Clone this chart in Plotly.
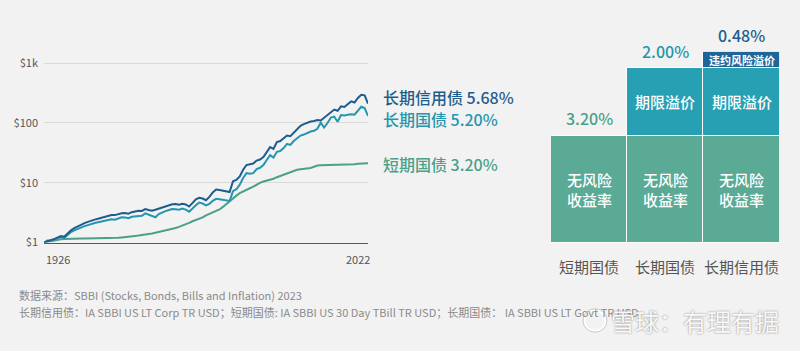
import plotly.graph_objects as go

# ---------------- data ----------------
years = list(range(1926, 2023))

credit = [1.00, 1.06, 1.10, 1.14, 1.22, 1.29, 1.25, 1.42, 1.60, 1.75,
          1.88, 1.99, 2.12, 2.22, 2.34, 2.42, 2.50, 2.60, 2.75, 2.85,
          2.90, 2.88, 3.00, 3.08, 3.12, 3.05, 3.22, 3.30, 3.41, 3.38,
          3.64, 3.50, 3.41, 3.55, 3.70, 3.86, 4.05, 4.20, 4.38, 4.40,
          4.30, 4.45, 4.35, 4.00, 4.60, 5.30, 5.60, 5.45, 5.10, 5.80,
          6.90, 7.70, 7.60, 7.40, 7.20, 7.00, 10.6, 11.2, 12.8, 16.5,
          19.8, 20.2, 21.0, 23.5, 24.5, 27.0, 32.0, 39.5, 37.0, 48.0,
          50.0, 55.0, 61.6, 60.0, 68.0, 78.0, 90.0, 96.0, 101.0, 106.0,
          108.0, 112.0, 110.0, 123.0, 138.0, 155.0, 168.0, 160.0, 190.0, 185.0,
          203.0, 230.0, 220.0, 262.0, 297.0, 290.0, 211.0]

govt = [1.00, 1.08, 1.09, 1.13, 1.18, 1.24, 1.20, 1.36, 1.50, 1.60,
        1.70, 1.80, 1.88, 1.96, 2.06, 2.12, 2.18, 2.24, 2.34, 2.42,
        2.46, 2.42, 2.52, 2.65, 2.62, 2.55, 2.70, 2.75, 2.82, 2.80,
        3.08, 2.90, 2.75, 2.65, 3.00, 3.20, 3.35, 3.50, 3.64, 3.62,
        3.55, 3.70, 3.55, 3.28, 3.75, 4.20, 4.67, 4.50, 4.20, 4.45,
        5.00, 5.40, 5.30, 5.20, 5.10, 4.97, 7.25, 7.80, 9.30, 12.0,
        14.5, 14.2, 14.5, 17.0, 17.8, 19.8, 24.0, 29.0, 26.5, 33.0,
        34.0, 38.0, 44.6, 43.0, 50.0, 55.0, 61.6, 64.0, 68.0, 72.0,
        74.0, 80.0, 101.0, 84.0, 100.0, 123.0, 128.0, 105.0, 136.0, 134.0,
        137.0, 140.0, 138.0, 160.0, 187.0, 178.0, 131.0]

bills = [1.00, 1.03, 1.06, 1.10, 1.13, 1.14, 1.15, 1.16, 1.17, 1.17,
         1.17, 1.17, 1.17, 1.17, 1.17, 1.17, 1.17, 1.17, 1.17, 1.18,
         1.19, 1.19, 1.20, 1.22, 1.23, 1.25, 1.27, 1.29, 1.31, 1.33,
         1.36, 1.40, 1.42, 1.46, 1.50, 1.53, 1.57, 1.62, 1.68, 1.75,
         1.83, 1.91, 2.00, 2.13, 2.27, 2.37, 2.46, 2.64, 2.86, 3.02,
         3.18, 3.34, 3.58, 3.95, 4.40, 5.05, 5.60, 6.10, 6.70, 7.20,
         7.65, 8.10, 8.60, 9.30, 10.0, 10.5, 10.8, 11.2, 11.7, 12.4,
         13.0, 13.7, 14.4, 15.1, 16.0, 16.5, 16.8, 17.0, 17.2, 17.7,
         18.5, 19.4, 19.7, 19.75, 19.8, 19.8, 19.8, 19.8, 19.8, 19.8,
         19.9, 20.0, 20.4, 20.8, 20.9, 20.9, 21.2]

series_names = ["长期信用债", "长期国债", "短期国债"]
series_cagr = ["5.68%", "5.20%", "3.20%"]

y_tickvals = [1, 10, 100, 1000]
y_ticktext = ["$1", "$10", "$100", "$1k"]
x_ticklabels = ["1926", "2022"]

bar_categories = ["短期国债", "长期国债", "长期信用债"]
riskfree = [3.20, 3.20, 3.20]
term_premium = [0.0, 2.00, 2.00]
default_premium = [0.0, 0.0, 0.48]
bar_top_labels = ["3.20%", "2.00%", "0.48%"]
segment_labels = ["无风险<br>收益率", "期限溢价", "违约风险溢价"]

footnote1 = "数据来源：SBBI (Stocks, Bonds, Bills and Inflation) 2023"
footnote2 = "长期信用债：IA SBBI US LT Corp TR USD；短期国债: IA SBBI US 30 Day TBill TR USD；长期国债： IA SBBI US LT Govt TR USD"
watermark = "雪球：有理有据"

# ---------------- style ----------------
BG = "#f2f2f2"
C_CREDIT = "#1d5d8d"
C_GOVT = "#2496ae"
C_BILLS = "#4c9f88"
B_GREEN = "#5aaa96"
B_TEAL = "#27a0b4"
B_DARK = "#1f6598"
FONT = "Noto Sans CJK SC"
W, H = 800, 351


def px(x):
    return x / W


def py(y):
    return 1 - y / H


fig = go.Figure()

# lines
fig.add_trace(go.Scatter(x=years, y=bills, mode="lines", line=dict(color=C_BILLS, width=2),
                         xaxis="x", yaxis="y", hoverinfo="skip"))
fig.add_trace(go.Scatter(x=years, y=govt, mode="lines", line=dict(color=C_GOVT, width=2),
                         xaxis="x", yaxis="y", hoverinfo="skip"))
fig.add_trace(go.Scatter(x=years, y=credit, mode="lines", line=dict(color=C_CREDIT, width=2),
                         xaxis="x", yaxis="y", hoverinfo="skip"))

# stacked bars
seg_line = dict(color="rgba(255,255,255,0.85)", width=1)
fig.add_trace(go.Bar(x=bar_categories, y=riskfree, marker=dict(color=B_GREEN, line=seg_line),
                     xaxis="x2", yaxis="y2", hoverinfo="skip"))
fig.add_trace(go.Bar(x=bar_categories, y=term_premium, marker=dict(color=B_TEAL, line=seg_line),
                     xaxis="x2", yaxis="y2", hoverinfo="skip"))
fig.add_trace(go.Bar(x=bar_categories, y=default_premium, marker=dict(color=B_DARK, line=seg_line),
                     xaxis="x2", yaxis="y2", hoverinfo="skip"))

y_bottom_px = 247.5
y_top_px = 40
decade_px = 61.0
bar_bottom_px = 248
bar_top_px = 20
pct_px = 110 / 3.20

fig.update_layout(
    width=W, height=H,
    margin=dict(l=0, r=0, t=0, b=0),
    paper_bgcolor=BG, plot_bgcolor=BG,
    showlegend=False,
    barmode="stack", bargap=0,
    font=dict(family=FONT, color="#555555"),
    xaxis=dict(domain=[px(44), px(368)], range=[1926, 2022], showgrid=False,
               showticklabels=False, zeroline=False, showline=True,
               linecolor="#5a5a5a", linewidth=1.2, anchor="y", fixedrange=True),
    yaxis=dict(type="log", domain=[py(y_bottom_px), py(y_top_px)],
               range=[0, (y_bottom_px - y_top_px) / decade_px],
               tickvals=y_tickvals, ticktext=y_ticktext, showgrid=True,
               gridcolor="#dadada", gridwidth=1, zeroline=False, showline=False,
               ticks="", ticklabelstandoff=5,
               tickfont=dict(size=11, color="#555555", family=FONT), anchor="x"),
    xaxis2=dict(domain=[px(551), px(781)], type="category", showgrid=False,
                showticklabels=False, zeroline=False, showline=False, anchor="y2"),
    yaxis2=dict(domain=[py(bar_bottom_px), py(bar_top_px)],
                range=[0, (bar_bottom_px - bar_top_px) / pct_px], visible=False,
                anchor="x2"),
)

ann = []
# x tick labels (left chart)
ann.append(dict(x=1926, y=py(264), xref="x", yref="paper", text=x_ticklabels[0],
                xanchor="left", yanchor="middle", showarrow=False,
                font=dict(size=11, color="#555555", family=FONT)))
ann.append(dict(x=2022, y=py(264), xref="x", yref="paper", text=x_ticklabels[1],
                xanchor="right", yanchor="middle", xshift=4, showarrow=False,
                font=dict(size=11, color="#555555", family=FONT)))

# line labels
label_y = [99, 121, 167]
label_colors = [C_CREDIT, C_GOVT, C_BILLS]
for name, cagr, yy, c in zip(series_names, series_cagr, label_y, label_colors):
    ann.append(dict(x=px(381), y=py(yy), xref="paper", yref="paper",
                    text=f"{name} {cagr}", xanchor="left", yanchor="middle",
                    showarrow=False, font=dict(size=16, color=c, family=FONT, weight=500)))

# bar top percentage labels
tops = [riskfree[i] + term_premium[i] + default_premium[i] for i in range(3)]
top_colors = [C_BILLS, C_GOVT, C_CREDIT]
for cat, t, lab, c in zip(bar_categories, tops, bar_top_labels, top_colors):
    ann.append(dict(x=cat, y=t, xref="x2", yref="y2", text=lab, xanchor="center",
                    yanchor="bottom", yshift=3, showarrow=False,
                    font=dict(size=16, color=c, family=FONT, weight=500)))

# segment labels
for i, cat in enumerate(bar_categories):
    ann.append(dict(x=cat, y=riskfree[i] / 2, xref="x2", yref="y2", text=segment_labels[0],
                    showarrow=False, font=dict(size=15, color="white", family=FONT, weight=500)))
    if term_premium[i] > 0:
        ann.append(dict(x=cat, y=riskfree[i] + term_premium[i] / 2, xref="x2", yref="y2",
                        text=segment_labels[1], showarrow=False,
                        font=dict(size=15, color="white", family=FONT, weight=500)))
    if default_premium[i] > 0:
        ann.append(dict(x=cat, y=riskfree[i] + term_premium[i] + default_premium[i] / 2,
                        xref="x2", yref="y2", text="<b>" + segment_labels[2] + "</b>",
                        showarrow=False, font=dict(size=11, color="white", family=FONT)))

# category labels
for cat in bar_categories:
    ann.append(dict(x=cat, y=py(272), xref="x2", yref="paper", text=cat,
                    showarrow=False, yanchor="middle",
                    font=dict(size=15, color="#555555", family=FONT)))

# footnotes
ann.append(dict(x=px(17), y=py(301), xref="paper", yref="paper", text=footnote1,
                xanchor="left", yanchor="middle", showarrow=False,
                font=dict(size=11, color="#8a8a8a", family=FONT)))
ann.append(dict(x=px(17), y=py(318), xref="paper", yref="paper", text=footnote2,
                xanchor="left", yanchor="middle", showarrow=False,
                font=dict(size=11, color="#8a8a8a", family=FONT)))

# watermark
ann.append(dict(x=px(609), y=py(327), xref="paper", yref="paper", text=watermark,
                xanchor="left", yanchor="middle", showarrow=False,
                font=dict(size=24, color="rgba(255,255,255,0.95)", family=FONT,
                          shadow="0px 0px 2px #777777")))
fig.update_layout(annotations=ann)

fig.add_shape(type="circle", xref="paper", yref="paper",
              x0=px(584), x1=px(606), y0=py(338), y1=py(316),
              line=dict(color="rgba(255,255,255,0.95)", width=3))
fig.add_shape(type="circle", xref="paper", yref="paper",
              x0=px(583), x1=px(607), y0=py(339), y1=py(315),
              line=dict(color="rgba(140,140,140,0.5)", width=1))

fig.write_html("out.html")
